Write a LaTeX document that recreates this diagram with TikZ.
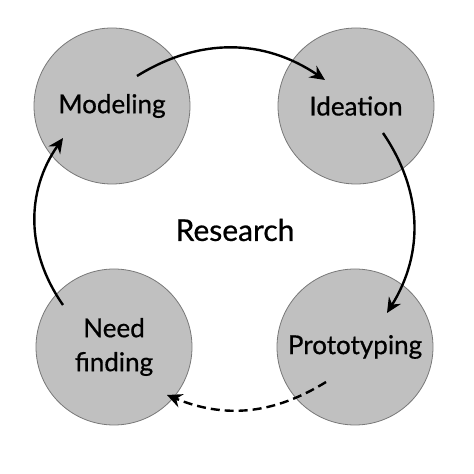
\documentclass[tikz,border=0pt]{standalone}
\usepackage{fontspec}
\setmainfont{Lato}
\newfontfamily\stagefont{Lato}[FakeBold=0.7]
\usepackage{xcolor}
\usepackage{tikz}
\usetikzlibrary{arrows.meta}
\usetikzlibrary{calc}
\definecolor{stagegray}{RGB}{192,192,192}
\definecolor{rimgray}{RGB}{120,120,120}
\tikzset{
    stagenode/.style = {align=center, inner sep=0pt, text centered, font=\stagefont\fontsize{26}{34}\selectfont},
    stage/.style = {stagenode, circle, draw=rimgray, fill=stagegray, minimum size=156pt, line width=0.8pt},
    flow/.style = {draw=black, line width=2.4pt, -{Stealth[length=15pt, width=14pt, inset=5pt]}},
    flowdash/.style = {flow, dash pattern=on 9pt off 5pt}
}
\begin{document}
\begin{tikzpicture}
            [x=1pt, y=1pt]
            \useasboundingbox (0,0) rectangle (474,474);

            \node [stage] (modeling) at (112,368) {Modeling};
            \node [stage] (ideation) at (356,368) {Ideation};
            \node [stage] (needfinding) at (114,127) {Need\\finding};
            \node [stage] (prototyping) at (355,127) {Prototyping};
            \node [stagenode, font=\stagefont\fontsize{30}{34}\selectfont] (research) at (235,244) {Research};

            % arrow ends
            \coordinate (mstart) at ($(modeling)+(25,30)$);
            \coordinate (iend) at ($(ideation)+(-31,26)$);
            \coordinate (istart) at ($(ideation)+(27,-27)$);
            \coordinate (pend) at ($(prototyping)+(32,34)$);
            \coordinate (pstart) at ($(prototyping)+(-29,-35)$);
            \coordinate (nend) at ($(needfinding)+(53,-48)$);
            \coordinate (nstart) at ($(needfinding)+(-51,42)$);
            \coordinate (mend) at ($(modeling)+(-49,-32)$);

            \draw [flow] (mstart) to[bend left=33] (iend);
            \draw [flow] (istart) to[bend left=33] (pend);
            \draw [flowdash] (pstart) to[bend left=27] (nend);
            \draw [flow] (nstart) to[bend left=35] (mend);
        \end{tikzpicture}
\end{document}
